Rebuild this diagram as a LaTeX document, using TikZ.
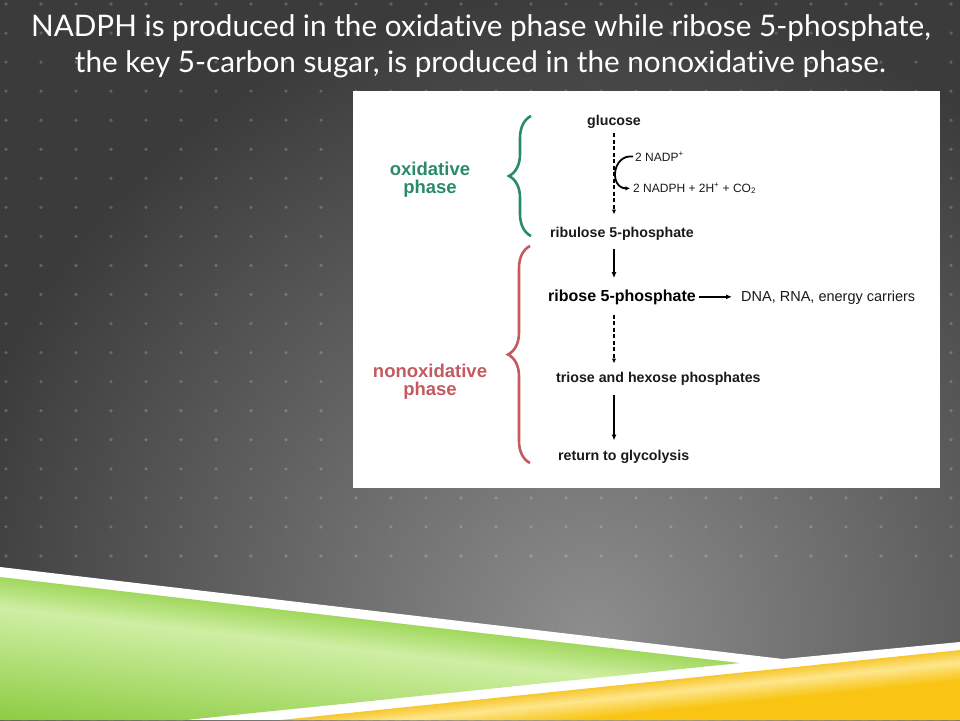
\documentclass[tikz,border=0pt]{standalone}
\usepackage{fontspec}
\setmainfont{Liberation Sans}
\newfontfamily\titlefont[Ligatures={NoCommon,NoContextual}]{Lato}
\usetikzlibrary{arrows.meta,decorations.pathreplacing}

\definecolor{bgdark}{HTML}{3B3B3B}
\definecolor{bglight}{HTML}{8E8E8E}
\definecolor{oxgreen}{HTML}{2A8B6C}
\definecolor{nonred}{HTML}{C45A60}
\definecolor{ink}{HTML}{1A1A1A}
\definecolor{grA}{HTML}{A2D85E}
\definecolor{grB}{HTML}{CFEFA4}
\definecolor{grC}{HTML}{7CC42A}
\definecolor{yeA}{HTML}{F8C830}
\definecolor{yeB}{HTML}{FDE68C}
\definecolor{yeC}{HTML}{F9C412}

\begin{document}
\begin{tikzpicture}[x=1pt,y=-1pt,
  lbl/.style={font=\fontsize{14.2}{16}\selectfont\bfseries, text=ink, inner sep=0pt},
  lblbig/.style={font=\fontsize{16}{18}\selectfont\bfseries, text=black, inner sep=0pt},
  reg/.style={font=\fontsize{14.5}{16}\selectfont, text=ink, inner sep=0pt},
  small/.style={font=\fontsize{12}{14}\selectfont, text=ink, inner sep=0pt},
  phase/.style={font=\fontsize{18.5}{18}\selectfont\bfseries, align=center, inner sep=0pt},
  titletext/.style={font=\titlefont\fontsize{29.7}{36}\selectfont, text=white, inner sep=0pt},
  flow/.style={line width=1.6pt, -{Latex[length=6pt,width=5pt]}},
  dflow/.style={line width=1.2pt, dash pattern=on 4pt off 2.5pt, -{Latex[length=5pt,width=4.5pt]}},
  bracestyle/.style={line width=2.6pt, decorate, decoration={brace, amplitude=22pt}},
]
\useasboundingbox (0,0) rectangle (960,720);

% background
\begin{scope}
  \clip (0,0) rectangle (960,720);
  \fill[bgdark] (0,0) rectangle (960,720);
  \shade[inner color=bglight, outer color=bgdark] (590,640) circle (650);
  \foreach \i in {0,...,27}
    \foreach \j in {0,...,19}
      \fill[white, opacity=0.2] ({6+35*\i},{4+29.05*\j}) circle (1.8);
\end{scope}

% bottom stripes
\fill[white] (0,567) -- (783,659) -- (960,642) -- (960,720) -- (0,720) -- cycle;
\begin{scope}
  \clip (0,577) -- (740,663) -- (185,720) -- (0,720) -- cycle;
  \foreach \d in {0,2,...,28}{
    \pgfmathsetmacro\p{100*\d/30}
    \colorlet{tmpc}{grB!\p!grA}
    \fill[tmpc] (0,{577+\d}) -- (960,{577+0.1162*960+\d}) -- (960,{577+0.1162*960+\d+2.5}) -- (0,{577+\d+2.5}) -- cycle;
  }
  \foreach \d in {30,32,...,170}{
    \pgfmathsetmacro\p{100*(\d-30)/140}
    \colorlet{tmpc}{grC!\p!grB}
    \fill[tmpc] (0,{577+\d}) -- (960,{577+0.1162*960+\d}) -- (960,{577+0.1162*960+\d+2.5}) -- (0,{577+\d+2.5}) -- cycle;
  }
\end{scope}
\begin{scope}
  \clip (280,720) -- (960,650) -- (960,720) -- cycle;
  \foreach \d in {0,1.5,...,10.5}{
    \pgfmathsetmacro\p{100*\d/12}
    \colorlet{tmpc}{yeB!\p!yeA}
    \fill[tmpc] (0,{748.9+\d}) -- (960,{748.9-0.103*960+\d}) -- (960,{748.9-0.103*960+\d+2}) -- (0,{748.9+\d+2}) -- cycle;
  }
  \foreach \d in {12,13.5,...,80}{
    \pgfmathsetmacro\p{min(100,100*(\d-12)/18)}
    \colorlet{tmpc}{yeC!\p!yeB}
    \fill[tmpc] (0,{748.9+\d}) -- (960,{748.9-0.103*960+\d}) -- (960,{748.9-0.103*960+\d+2}) -- (0,{748.9+\d+2}) -- cycle;
  }
\end{scope}

% title
\node[titletext, anchor=base] (t1) at (481,36) {NADPH is produced in the oxidative phase while ribose 5-phosphate,};
\node[titletext, anchor=base] (t2) at (480.5,72) {the key 5-carbon sugar, is produced in the nonoxidative phase.};

% panel
\fill[white] (353,91) rectangle (940,488);

% labels
\node[lbl, anchor=base west] (glucose) at (587,125) {glucose};
\node[small, anchor=base west] (nadp) at (635,161) {2 NADP\textsuperscript{+}};
\node[small, anchor=base west] (nadph) at (633,192) {2 NADPH + 2H\textsuperscript{+} + CO\textsubscript{2}};
\node[lbl, anchor=base west] (ribulose) at (550,237) {ribulose 5-phosphate};
\node[lblbig, anchor=base west] (ribose) at (548,301) {ribose 5-phosphate};
\node[reg, anchor=base west] (dna) at (741,301) {DNA, RNA, energy carriers};
\node[lbl, anchor=base west] (triose) at (556,382) {triose and hexose phosphates};
\node[lbl, anchor=base west] (glyco) at (558,460) {return to glycolysis};

\node[phase, text=oxgreen, anchor=base] (ox) at (430,193) {oxidative\\phase};
\node[phase, text=nonred, anchor=base] (nonox) at (430,395) {nonoxidative\\phase};

% braces
\draw[oxgreen, bracestyle] (531,236) -- (531,116);
\draw[nonred, bracestyle] (530,463) -- (530,246);

% connectors
\coordinate (spine) at (614,0);
\draw[dflow, shorten <=5pt, shorten >=12pt] (glucose.south -| spine) -- (ribulose.north -| spine);
\draw[line width=1.8pt, -{Latex[length=4.5pt,width=4.5pt]}] ([xshift=-2pt]nadp.west) .. controls (612,154) and (609,188) .. ([xshift=-3pt]nadph.west);
\draw[flow, shorten <=9pt, shorten >=11pt] (ribulose.south -| spine) -- (ribose.north -| spine);
\draw[flow, shorten <=3pt, shorten >=9pt] (ribose.east) -- (ribose.east -| dna.west);
\draw[dflow, shorten <=10pt, shorten >=8pt] (ribose.south -| spine) -- (triose.north -| spine);
\draw[flow, shorten <=10pt, shorten >=9pt] (triose.south -| spine) -- (glyco.north -| spine);
\end{tikzpicture}
\end{document}
